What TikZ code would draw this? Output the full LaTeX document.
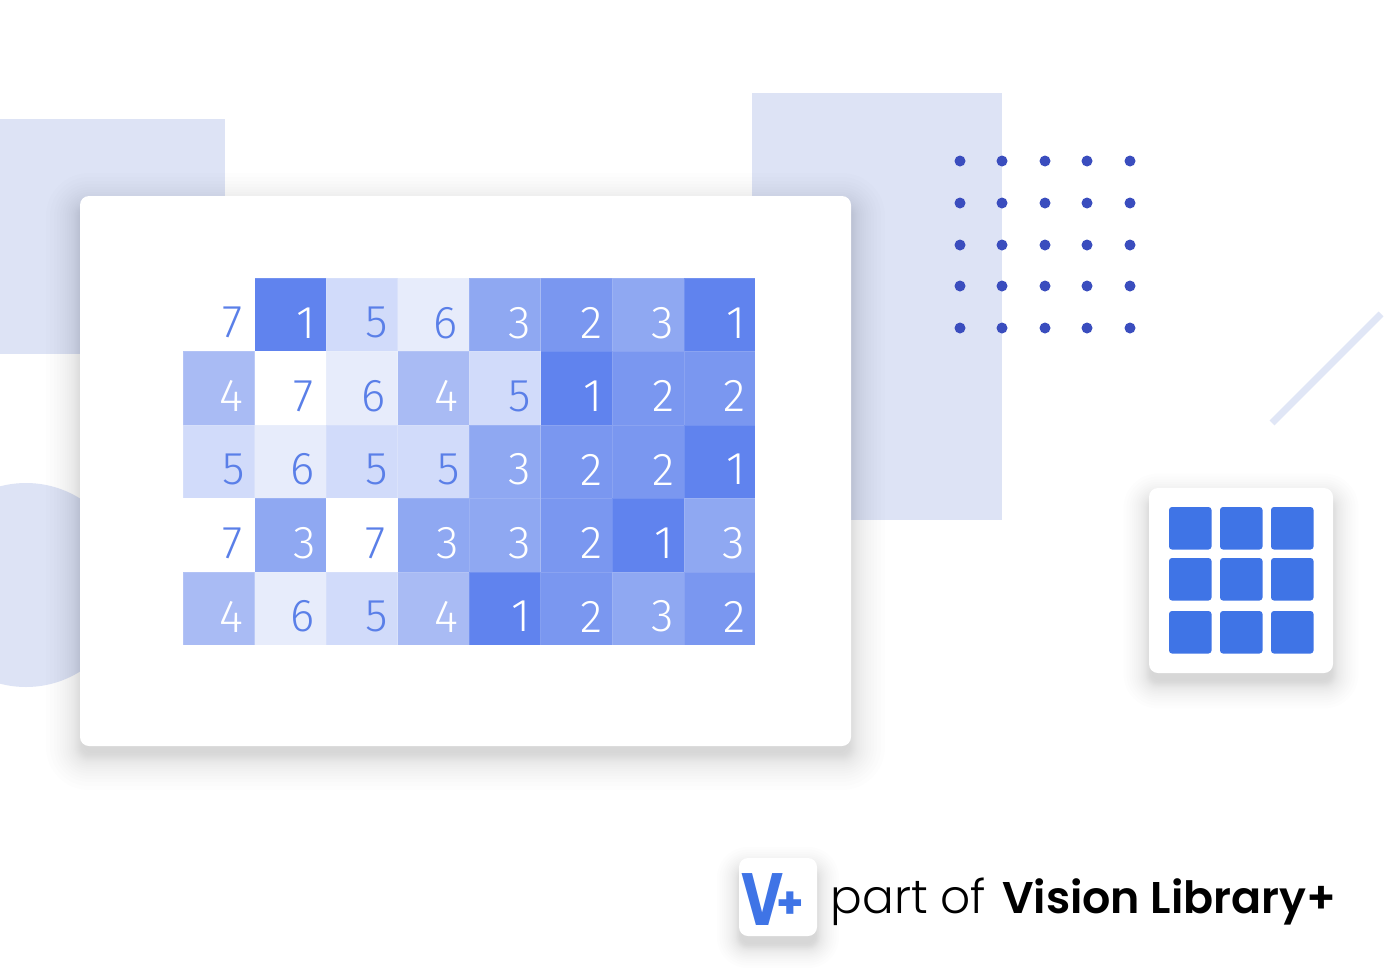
\documentclass[tikz,border=0pt]{standalone}
\usepackage{fontspec}
\usetikzlibrary{calc}
\setmainfont{Poppins Light}
\newfontfamily\digitfont{Fira Sans Light}
\newfontfamily\boldfont{Poppins SemiBold}
\newfontfamily\logofont{Poppins Bold}

\definecolor{backshape}{HTML}{DDE3F5}
\definecolor{dotblue}{HTML}{3A4DBE}
\definecolor{iconblue}{HTML}{3F74E6}
\definecolor{numblue}{HTML}{5A7FE8}
\definecolor{v1}{HTML}{6083EE}
\definecolor{v2}{HTML}{7A97F0}
\definecolor{v3}{HTML}{8FA8F2}
\definecolor{v4}{HTML}{A9BBF4}
\definecolor{v5}{HTML}{D1DBFA}
\definecolor{v6}{HTML}{E7ECFB}
\definecolor{v7}{HTML}{FFFFFF}
\colorlet{t1}{white}
\colorlet{t2}{white}
\colorlet{t3}{white}
\colorlet{t4}{white}
\colorlet{t5}{numblue}
\colorlet{t6}{numblue}
\colorlet{t7}{numblue}

\tikzset{
  card/.style={fill=white, rounded corners=9pt},
  cell/.style={rectangle, inner sep=0pt, minimum width=71.6pt, minimum height=73.5pt, draw=white, draw opacity=0.12, line width=0.6pt},
  num/.style={inner sep=0pt, font=\digitfont\fontsize{46}{46}\selectfont},
  tile/.style={fill=iconblue, rounded corners=3pt},
  griddot/.style={circle, inner sep=0pt, minimum size=11pt, fill=dotblue}
}

% soft shadow: a stack of faint rounded boxes, thinning out away from the box
% #5 scales the spread, so small cards get a tighter one
\newcommand{\softshadow}[5]{
  \foreach \s in {-3,-1,0,1,2,3,4,5,6,7.5,9,11,13,15,17.5,20,23,26,30,34} {
    \fill[black, opacity=0.0095, rounded corners={9pt+max(\s*#5,0)*1pt}]
      ($(#1,#2)+({-\s*#5},{11-\s*#5})$) rectangle ($(#3,#4)+({\s*#5},{10+\s*#5})$);
  }
}

\begin{document}
\begin{tikzpicture}[x=1pt, y=-1pt]
\useasboundingbox (0,0) rectangle (1384,975);
\clip (0,0) rectangle (1384,975);
\fill[white] (0,0) rectangle (1384,975);

% First, the pale shapes behind everything
\fill[backshape] (0,119) rectangle (225,354);
\fill[backshape] (26,585) circle (102);
\fill[backshape] (752,93) rectangle (1002,520);
\draw[backshape!90!white, line width=7pt] (1381,314) coordinate (slashA) -- (1272,423) coordinate (slashB);

% Dot grid on the right
\foreach \y [count=\r] in {161,203,245,286,328} {
  \foreach \x [count=\c] in {960,1002,1045,1087,1130} {
    \node[griddot] (dot\r\c) at (\x,\y) {};
  }
}

% Main panel
\softshadow{80}{196}{851}{746}{1}
\fill[card] (80,196) rectangle (851,746);

% Now the table, row by row
\foreach \row [count=\r] in {{7,1,5,6,3,2,3,1},{4,7,6,4,5,1,2,2},{5,6,5,5,3,2,2,1},{7,3,7,3,3,2,1,3},{4,6,5,4,1,2,3,2}} {
  \foreach \d [count=\c] in \row {
    \pgfmathsetmacro\nudge{{0,4,3,2.5,1,3,0,1.5}[\d]}
    \node[cell, fill=v\d] (c\r\c) at ({147.2+71.55*\c},{241.3+73.45*\r}) {};
    \node[num, text=t\d] (n\r\c) at ($(c\r\c)+(12+\nudge,8)$) {\d};
  }
}

% Icon card with nine tiles
\softshadow{1149}{488}{1333}{673}{0.75}
\fill[card] (1149,488) rectangle (1333,673);
\foreach \y in {507,558,611} {
  \foreach \x in {1169,1220,1271} {
    \fill[tile] (\x,\y) rectangle ++(42.5,42.5);
  }
}

% Logo and caption
\softshadow{739}{858}{817}{936}{0.65}
\fill[card] (739,858) rectangle (817,936);
\node[inner sep=0pt, text=iconblue, font=\logofont\fontsize{74}{74}\selectfont] (logo) at (772.5,899.5)
  {\scalebox{0.78}[1]{V}\kern-7.5pt\raisebox{7pt}{\fontsize{44}{44}\selectfont +}};
\node[anchor=base west, inner sep=0pt, font=\fontsize{47}{47}\selectfont] (partof) at (830.5,913) {part of};
\node[anchor=base west, inner sep=0pt, font=\boldfont\fontsize{44.4}{44.4}\selectfont] (vision) at (1002,913) {Vision Library+};

\end{tikzpicture}
\end{document}
